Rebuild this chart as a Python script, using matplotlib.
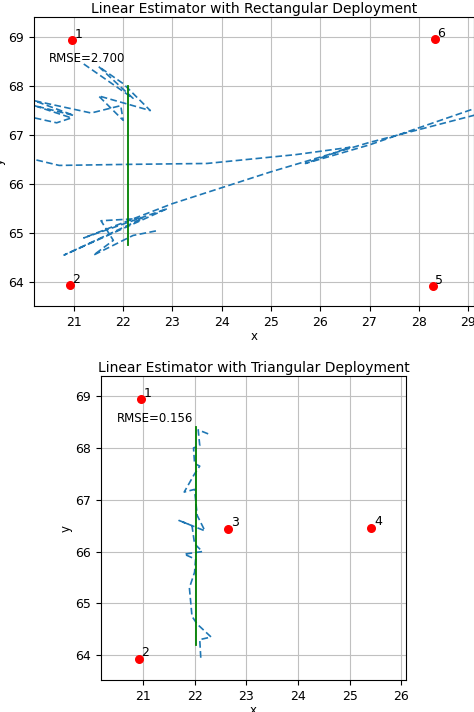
import matplotlib
matplotlib.use("Agg")
import matplotlib.pyplot as plt

# Top: rectangular deployment
rect_anchor_x = [20.97, 20.92, 28.28, 28.33]
rect_anchor_y = [68.94, 63.93, 63.91, 68.96]
rect_labels = ["1", "2", "5", "6"]
rect_true_x = [22.1, 22.1]
rect_true_y = [64.75, 68.0]
rect_est_x = [21.2, 22.2, 21.5, 22.0, 22.2, 22.55, 21.5, 22.0, 21.95, 21.35, 20.2, 21.0, 20.2, 20.95, 20.65, 20.2,
              19.9, 20.2, 20.7, 22.0, 23.7, 25.5, 26.6, 25.7, 27.0, 29.3,
              29.3, 27.0, 26.5, 25.0, 23.0, 21.2, 22.9, 20.8, 22.4, 21.55, 21.8, 21.4, 22.2, 22.7]
rect_est_y = [68.45, 67.75, 68.4, 68.05, 67.85, 67.5, 67.8, 67.3, 67.6, 67.45, 67.7, 67.4, 67.6, 67.35, 67.25, 67.35,
              66.9, 66.5, 66.38, 66.4, 66.42, 66.6, 66.75, 66.42, 66.8, 67.6,
              67.45, 66.85, 66.7, 66.25, 65.6, 64.9, 65.5, 64.55, 65.3, 65.25, 64.85, 64.55, 64.95, 65.05]
rect_rmse = "RMSE=2.700"

# Bottom: triangular deployment
tri_anchor_x = [20.97, 20.92, 22.65, 25.42]
tri_anchor_y = [68.94, 63.93, 66.44, 66.46]
tri_labels = ["1", "2", "3", "4"]
tri_true_x = [22.02, 22.02]
tri_true_y = [64.2, 68.4]
tri_est_x = [22.12, 22.1, 22.32, 22.05, 21.95, 21.9, 22.0, 22.02, 21.8, 22.15, 22.0, 21.95, 21.7, 22.2, 22.05,
             22.0, 21.8, 22.0, 22.1, 22.0, 21.98, 22.1, 22.07, 22.32]
tri_est_y = [63.95, 64.3, 64.35, 64.6, 64.75, 65.3, 65.6, 65.85, 65.95, 66.0, 66.15, 66.5, 66.6, 66.4, 66.7,
             67.2, 67.15, 67.5, 67.65, 67.7, 68.0, 68.05, 68.35, 68.25]
tri_rmse = "RMSE=0.156"

fig = plt.figure(figsize=(4.74, 7.12), dpi=100)
plt.rcParams['font.size'] = 8.5

def draw(ax, ax_x, ax_y, labels, tx, ty, ex, ey, rmse, title, xlim, ylim, xticks):
    ax.plot(ex, ey, '--', color='#1f77b4', lw=1.2, dashes=(4, 2), zorder=2)
    ax.plot(tx, ty, '-', color='green', lw=1.3, zorder=3)
    ax.scatter(ax_x, ax_y, color='red', s=30, zorder=4)
    for x, y, l in zip(ax_x, ax_y, labels):
        ax.text(x + 0.05, y + 0.05, l, fontsize=9)
    ax.text(20.5, 68.5, rmse, fontsize=8.5)
    ax.set_xlim(*xlim)
    ax.set_ylim(*ylim)
    ax.set_xticks(xticks)
    ax.set_yticks([64, 65, 66, 67, 68, 69])
    ax.grid(True, color='#c0c0c0', lw=0.8)
    ax.set_axisbelow(True)
    ax.set_xlabel('x', labelpad=1)
    ax.set_ylabel('y', labelpad=2)
    ax.set_title(title, fontsize=10, pad=3)
    ax.tick_params(labelsize=9)

ax1 = fig.add_axes([34/474, 1-306/712, 440/474, 289/712])
draw(ax1, rect_anchor_x, rect_anchor_y, rect_labels, rect_true_x, rect_true_y, rect_est_x, rect_est_y,
     rect_rmse, "Linear Estimator with Rectangular Deployment", (20.19, 29.12), (63.51, 69.41),
     list(range(21, 30)))
ax2 = fig.add_axes([101/474, 1-680/712, 305/474, 304/712])
draw(ax2, tri_anchor_x, tri_anchor_y, tri_labels, tri_true_x, tri_true_y, tri_est_x, tri_est_y,
     tri_rmse, "Linear Estimator with Triangular Deployment", (20.19, 26.09), (63.52, 69.39),
     list(range(21, 27)))
fig.savefig("out.png", dpi=100)
